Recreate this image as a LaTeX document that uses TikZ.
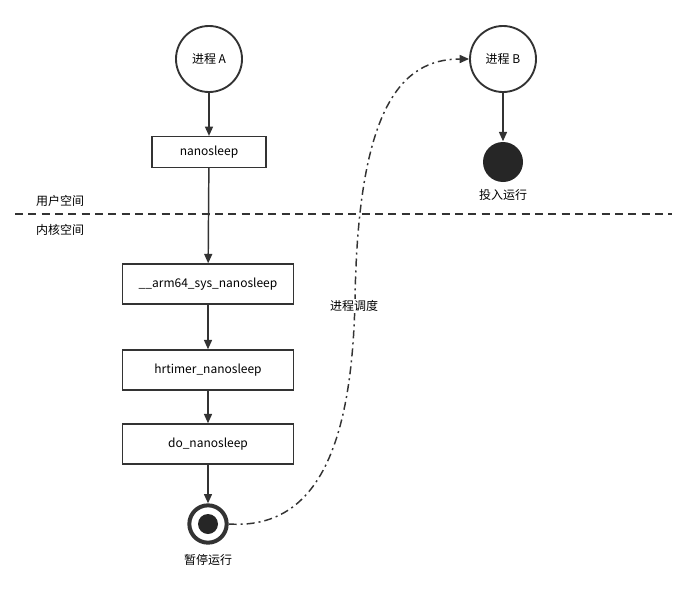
\documentclass[tikz,border=0pt]{standalone}
\usepackage{fontspec}
\setmainfont{Noto Sans CJK SC}
\usetikzlibrary{arrows.meta}
\begin{document}
\begin{tikzpicture}[x=0.75pt,y=-0.75pt,font=\fontsize{9}{11}\selectfont,
  line width=1.1pt, draw=black!80,
  proc/.style={circle,draw=black!80,line width=1.4pt,minimum size=49.5pt,inner sep=0pt},
  fn/.style={draw=black!80,line width=1.1pt,minimum width=128pt,minimum height=30pt,inner sep=0pt},
  arr/.style={-{Triangle[length=7pt,width=6pt]},draw=black!80,line width=1.1pt}]
\useasboundingbox (0,0) rectangle (700,596);
\node[proc] (A) at (209,59) {进程 A};
\node[fn,minimum width=85.5pt,minimum height=23pt] (ns) at (209,152) {nanosleep};
\node[fn] (arm) at (208,284) {\_\_arm64\_sys\_nanosleep};
\node[fn] (hr) at (208,370) {hrtimer\_nanosleep};
\node[fn] (do) at (208,444) {do\_nanosleep};
\node[circle,draw=black!80,line width=3pt,minimum size=28pt,inner sep=0pt] (end) at (208,524) {};
\fill[black!85] (end.center) circle (7.5pt);
\node (endl) at (208,560) {暂停运行};
\node[proc] (B) at (503,59) {进程 B};
\node[circle,fill=black!85,minimum size=30pt,inner sep=0pt] (run) at (503,162) {};
\node (runl) at (503,195) {投入运行};
\node[anchor=west] (u) at (31,201) {用户空间};
\node[anchor=west] (k) at (31,230) {内核空间};
\coordinate (dl) at (15,214); \coordinate (dr) at (672,214);
\draw[dashed,dash pattern=on 6pt off 4pt] (dl) -- (dr);
\draw[arr] (A) -- (ns);
\draw[arr] (ns) -- (arm);
\draw[arr] (arm) -- (hr);
\draw[arr] (hr) -- (do);
\draw[arr] (do) -- (end);
\draw[arr] (B) -- (run);
\coordinate (mid) at (355,300);
\draw[arr,dash pattern=on 6pt off 3pt on 1.5pt off 3pt] (end.east) .. controls (320,530) and (352,440) .. (mid) .. controls (358,110) and (400,59) .. (B.west);
\node[fill=white,inner sep=1pt] (lbl) at (354,306) {进程调度};
\end{tikzpicture}
\end{document}
